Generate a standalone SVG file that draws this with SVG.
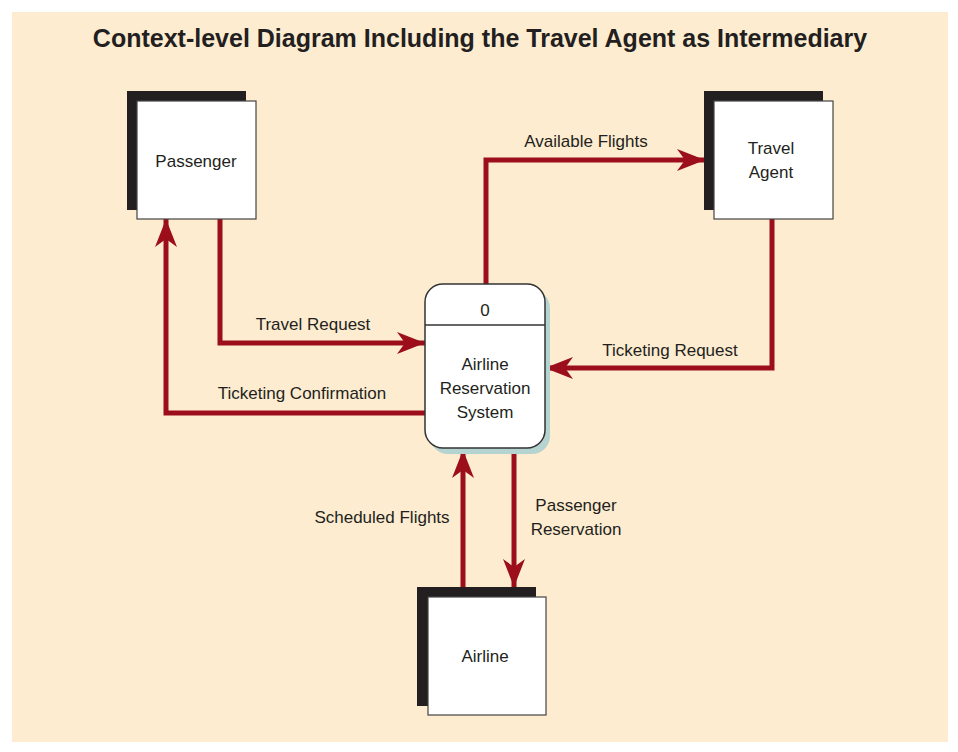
<svg xmlns="http://www.w3.org/2000/svg" width="958" height="752" viewBox="0 0 958 752">
<defs>
<style>
.t{font-family:"Liberation Sans Narrow","Liberation Sans",Arial,sans-serif;font-size:17px;fill:#231f20;text-anchor:middle}
.f{fill:none;stroke:#9b0e1a;stroke-width:5;marker-end:url(#ah)}
.sh{fill:#231f20}
.bx{fill:#fff;stroke:#444;stroke-width:1.2}
</style>
<marker id="ah" markerUnits="userSpaceOnUse" markerWidth="30" markerHeight="24" refX="28" refY="12" orient="auto" viewBox="0 0 30 24">
<path d="M0,1 L28,12 L0,23 L8,12 z" fill="#9b0e1a"/>
</marker>
</defs>
<rect width="958" height="752" fill="#fff"/>
<rect x="12" y="12" width="936" height="730" fill="#fdecd0"/>
<text x="480" y="47" style="font-family:'Liberation Sans',Arial,sans-serif;font-weight:bold;font-size:25px;fill:#231f20;text-anchor:middle">Context-level Diagram Including the Travel Agent as Intermediary</text>
<g id="connectors">
<path class="f" d="M486,284 V160 H705"/>
<path class="f" d="M220,219 V343 H425"/>
<path class="f" d="M425,413 H166 V219"/>
<path class="f" d="M772,219 V368 H545"/>
<path class="f" d="M463,587 V450"/>
<path class="f" d="M514,448 V587"/>
<text class="t" x="586" y="147">Available Flights</text>
<text class="t" x="313" y="330">Travel Request</text>
<text class="t" x="302" y="399">Ticketing Confirmation</text>
<text class="t" x="670" y="356">Ticketing Request</text>
<text class="t" x="382" y="523">Scheduled Flights</text>
<text class="t" x="576" y="511">Passenger</text>
<text class="t" x="576" y="535">Reservation</text>
</g>
<g id="passenger">
<rect class="sh" x="127" y="91" width="119" height="119"/>
<rect class="bx" x="137" y="101" width="119" height="118"/>
<text class="t" x="196" y="167">Passenger</text>
</g>
<g id="travel-agent">
<rect class="sh" x="704" y="91" width="119" height="119"/>
<rect class="bx" x="714" y="101" width="119" height="118"/>
<text class="t" x="771" y="154">Travel</text>
<text class="t" x="771" y="178">Agent</text>
</g>
<g id="airline">
<rect class="sh" x="417" y="587" width="119" height="119"/>
<rect class="bx" x="428" y="597" width="118" height="118"/>
<text class="t" x="485" y="662">Airline</text>
</g>
<g id="process">
<rect x="430" y="290" width="120" height="164" rx="18" fill="#b5d3d0"/>
<rect x="425" y="284" width="120" height="164" rx="18" fill="#fff" stroke="#333" stroke-width="1.5"/>
<line x1="425" y1="325" x2="545" y2="325" stroke="#333" stroke-width="1.5"/>
<text class="t" x="485" y="316">0</text>
<text class="t" x="485" y="370">Airline</text>
<text class="t" x="485" y="394">Reservation</text>
<text class="t" x="485" y="418">System</text>
</g>
</svg>
